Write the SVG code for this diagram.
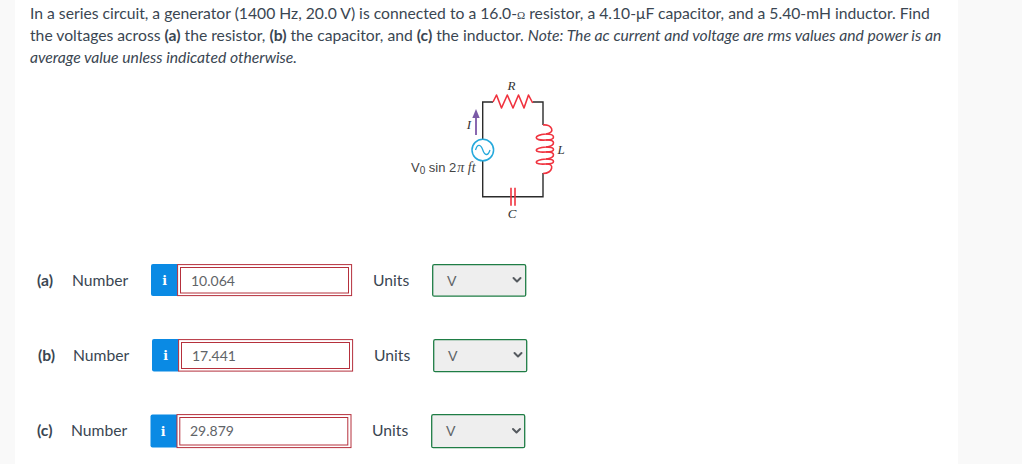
<svg xmlns="http://www.w3.org/2000/svg" width="1022" height="464" viewBox="0 0 1022 464">
<style>
.t{font-family:Lato,"Liberation Sans",sans-serif;font-size:15.7px;fill:#3a4652}
.b{font-weight:700}
.i{font-style:italic}
.v{font-family:Lato,"Liberation Sans",sans-serif;font-size:14px;fill:#5f6468}
.ib{fill:#0a8ae4}
.ii{font-family:"DejaVu Serif",serif;font-weight:700;font-size:12.500px;fill:#fff;text-anchor:middle}
.o{fill:#fff;stroke:#b5303c;stroke-width:1}
.s{fill:#eeeeee;stroke:#1f7d45;stroke-width:1.3}
.c{fill:none;stroke:#555a5f;stroke-width:2;stroke-linecap:round;stroke-linejoin:round}
.w{fill:none;stroke:#2b2b2b;stroke-width:1.4}
.r{fill:none;stroke:#f0333f;stroke-width:1.6;stroke-linejoin:round}
.m{font-family:"Liberation Serif",serif;font-style:italic;font-size:13px;fill:#333;text-anchor:middle}
.e{font-family:"Liberation Sans",sans-serif;font-size:13px;fill:#444}
</style>
<rect width="1022" height="464" fill="#f9f9f9"/>
<rect x="15" width="943" height="464" fill="#fff"/>

<g id="question">
<text class="t" x="30" y="19">In a series circuit, a generator (1400 Hz, 20.0 V) is connected to a 16.0-<tspan font-family="Liberation Serif" font-size="11">Ω</tspan> resistor, a 4.10-μF capacitor, and a 5.40-mH inductor. Find</text>
<text class="t" x="30" y="41">the voltages across <tspan class="b">(a)</tspan> the resistor, <tspan class="b">(b)</tspan> the capacitor, and <tspan class="b">(c)</tspan> the inductor. <tspan class="i">Note: The ac current and voltage are rms values and power is an</tspan></text>
<text class="t i" x="30" y="63">average value unless indicated otherwise.</text>
</g>

<g id="connectors">
<path class="w" d="M482.700 139V102H493M532.700 102H543V125M543 173V196.700H511M515 196.700H482.700V161"/>
</g>

<g id="resistor">
<path class="r" d="M493 102L496.500 95L501.500 108L507.300 95L513 108L518.500 95L524 108L528.500 95L532.700 103"/>
<text class="m" x="511.500" y="90">R</text>
</g>
<g id="inductor">
<path class="r" d="M543 125C552 124 556 133 546 134C533 135 533 141 546 140C556 139 556 146 546 147C533 148 533 153 546 152C556 151 556 158 546 159C533 160 533 165 546 164C555 163 553 173 543 173.500"/>
<path class="r" d="M546 134C556 134 556 140 546 140M546 147C556 147 556 152 546 152M546 159C556 159 556 164 546 164" stroke-width="1.300"/>
<text class="m" x="561" y="154">L</text>
</g>
<g id="capacitor">
<path class="r" d="M511 187.700V205.700M515 187.700V205.700"/>
<text class="m" x="512" y="218">C</text>
</g>
<g id="generator">
<circle cx="482.800" cy="150" r="10.800" fill="#fff" stroke="#25a9dc" stroke-width="1.500"/>
<path d="M475.500 150C477.500 143 481 144.500 482.800 150S488 156.500 490 150" fill="none" stroke="#25a9dc" stroke-width="1.300"/>
<text class="e" x="411" y="172">V<tspan font-size="10" dy="2">0</tspan><tspan dy="-2"> sin 2</tspan><tspan font-family="Liberation Serif" font-style="italic" font-size="14" dx="1">π ft</tspan></text>
</g>
<g id="current">
<path d="M476 135V115" stroke="#8a68b0" stroke-width="2" fill="none"/>
<path d="M476 109L472.300 118H479.700Z" fill="#7a5aa6"/>
<text class="m" x="469" y="129">I</text>
</g>

<g id="row-a">
<text class="t b" x="37" y="286">(a)</text>
<text class="t" x="72" y="286">Number</text>
<rect class="ib" x="151" y="264" width="28" height="32" rx="2"/>
<text class="ii" x="164.500" y="285">i</text>
<rect class="o" x="177.600" y="264.600" width="174" height="31"/>
<rect class="o" x="180.500" y="267.500" width="168" height="25.500"/>
<text class="v" x="191" y="286">10.064</text>
<text class="t" x="373" y="286">Units</text>
<rect class="s" x="432.700" y="264.700" width="93" height="31.500" rx="1.500"/>
<text class="v" x="447" y="286">V</text>
<path class="c" d="M513.500 278L517 281.500L520.500 278"/>
</g>
<g id="row-b">
<text class="t b" x="38" y="361">(b)</text>
<text class="t" x="73" y="361">Number</text>
<rect class="ib" x="152" y="339" width="28" height="32.500" rx="2"/>
<text class="ii" x="165.500" y="360">i</text>
<rect class="o" x="178.600" y="339.600" width="174" height="31.500"/>
<rect class="o" x="181.500" y="342.500" width="168" height="26"/>
<text class="v" x="192" y="361">17.441</text>
<text class="t" x="374" y="361">Units</text>
<rect class="s" x="433.700" y="339.700" width="93" height="32" rx="1.500"/>
<text class="v" x="448" y="361">V</text>
<path class="c" d="M514.500 353L518 356.500L521.500 353"/>
</g>
<g id="row-c">
<text class="t b" x="37" y="436">(c)</text>
<text class="t" x="71" y="436">Number</text>
<rect class="ib" x="150.500" y="414.500" width="28" height="33" rx="2"/>
<text class="ii" x="163" y="436">i</text>
<rect class="o" x="177" y="414.600" width="174" height="33"/>
<rect class="o" x="179.800" y="417.500" width="168" height="27.500"/>
<text class="v" x="190" y="436">29.879</text>
<text class="t" x="372" y="436">Units</text>
<rect class="s" x="431.700" y="414.700" width="93" height="33" rx="1.500"/>
<text class="v" x="446" y="436">V</text>
<path class="c" d="M513 429L516.500 432.500L520 429"/>
</g>
</svg>
